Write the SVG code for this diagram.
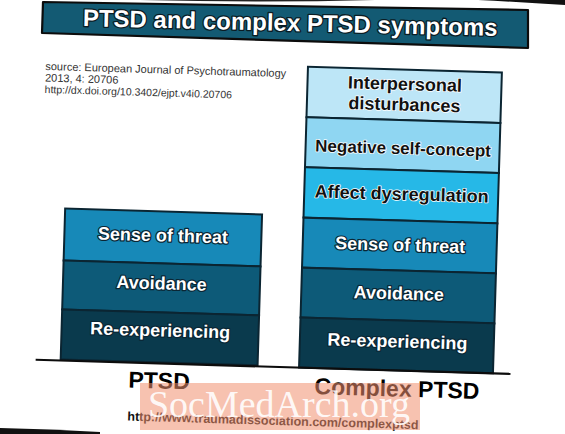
<svg xmlns="http://www.w3.org/2000/svg" width="565" height="434" viewBox="0 0 565 434">
<style>
.row{stroke:#0b2532;stroke-width:2}
.wt{font-family:"Liberation Sans",Arial,sans-serif;font-weight:bold;font-size:18px;fill:#fff;stroke:#0a2634;stroke-width:2.4;paint-order:stroke;stroke-linejoin:round;text-anchor:middle}
.dt{font-family:"Liberation Sans",Arial,sans-serif;font-weight:bold;font-size:18px;fill:#111;stroke:#fff;stroke-width:1.5;paint-order:stroke;stroke-linejoin:round;text-anchor:middle}
.lbl{font-family:"Liberation Sans",Arial,sans-serif;font-weight:bold;font-size:23px;fill:#000;text-anchor:middle}
.src{font-family:"Liberation Sans",Arial,sans-serif;font-size:11px;fill:#333}
</style>
<rect width="565" height="434" fill="#fff"/>
<!-- photo edge artifacts -->
<path d="M140,0 Q260,3 375,0 Z" fill="#222"/>
<path d="M478,0 Q520,2 565,5 L565,0 Z" fill="#111"/>
<path d="M0,428 Q50,429 100,432 L100,434 L0,434 Z" fill="#111"/>

<g id="title">
<polygon points="43,2 528,10 528,48 42,33" fill="#135a73" stroke="#0c0c0c" stroke-width="2.2" stroke-linejoin="round"/>
<text x="290" y="31" transform="rotate(1.35 290 31)" style="font-family:'Liberation Sans',Arial,sans-serif;font-weight:bold;font-size:24px;fill:#fff;stroke:#0a1c24;stroke-width:2.6;paint-order:stroke;stroke-linejoin:round;text-anchor:middle">PTSD and complex PTSD symptoms</text>
</g>

<g transform="rotate(1.7 282 217)">
<g id="source">
<text class="src" x="41" y="77">source: European Journal of Psychotraumatology</text>
<text class="src" x="41" y="88.5">2013, 4: 20706</text>
<text class="src" x="41" y="100" style="font-size:10.5px">http://dx.doi.org/10.3402/ejpt.v4i0.20706</text>
</g>

<g id="ptsd-sense">
<rect class="row" x="65" y="215" width="197" height="52" fill="#1789b8"/>
<text class="wt" x="163.5" y="245">Sense of threat</text>
</g>
<g id="ptsd-avoid">
<rect class="row" x="65" y="267" width="197" height="49" fill="#0d5a78"/>
<text class="wt" x="163.5" y="293">Avoidance</text>
</g>
<g id="ptsd-reexp">
<rect class="row" x="65" y="316" width="197" height="50" fill="#0a3a4d"/>
<text class="wt" x="163.5" y="340">Re-experiencing</text>
</g>

<g id="cptsd-interpersonal">
<rect class="row" x="303.5" y="66" width="194" height="50.5" fill="#bde6f7"/>
<text class="dt" x="401" y="86.5">Interpersonal</text>
<text class="dt" x="401" y="107">disturbances</text>
</g>
<g id="cptsd-negative">
<rect class="row" x="303.5" y="116.5" width="194" height="50" fill="#8fd6f2"/>
<text class="dt" x="401" y="150.5" style="font-size:17px">Negative self-concept</text>
</g>
<g id="cptsd-affect">
<rect class="row" x="303.5" y="166.5" width="194" height="50.5" fill="#26b8e7"/>
<text class="dt" x="401" y="196.5">Affect dysregulation</text>
</g>
<g id="cptsd-sense">
<rect class="row" x="303.5" y="217" width="194" height="50" fill="#1789b8"/>
<text class="wt" x="401" y="247.5">Sense of threat</text>
</g>
<g id="cptsd-avoid">
<rect class="row" x="303.5" y="267" width="194" height="50" fill="#0d5a78"/>
<text class="wt" x="401" y="296">Avoidance</text>
</g>
<g id="cptsd-reexp">
<rect class="row" x="303.5" y="317" width="194" height="50" fill="#0a3a4d"/>
<text class="wt" x="401" y="344">Re-experiencing</text>
</g>

<g id="connectors">
<line x1="40" y1="367" x2="515" y2="367" stroke="#0c0c0c" stroke-width="2.2"/>
</g>

<g id="label-ptsd"><text class="lbl" x="164" y="392">PTSD</text></g>
<g id="label-cptsd"><text class="lbl" x="402" y="393">Complex PTSD</text></g>
<g id="url"><text x="279" y="425" style="font-family:'Liberation Sans',Arial,sans-serif;font-weight:bold;font-size:12.5px;fill:#111;text-anchor:middle">http://www.traumadissociation.com/complexptsd</text></g>
</g>

<g id="watermark">
<rect x="140" y="383" width="280" height="47" fill="#f09070" opacity="0.55"/>
<text x="279" y="417" style="font-family:'Liberation Serif','Times New Roman',serif;font-size:38px;fill:#fff;fill-opacity:0.9;text-anchor:middle">SocMedArch.org</text>
</g>
</svg>
